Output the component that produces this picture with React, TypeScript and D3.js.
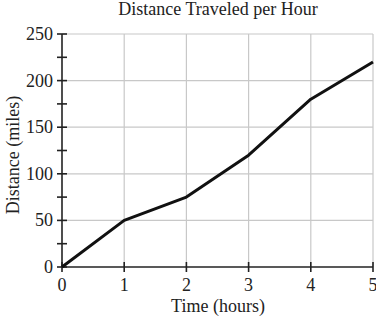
import React from "react";
import * as d3 from "d3";

const hours = [0, 1, 2, 3, 4, 5];
const miles = [0, 50, 75, 120, 180, 220];
const yTicks = [0, 50, 100, 150, 200, 250];
const yMinor = [25, 75, 125, 175, 225];
const xTicks = [0, 1, 2, 3, 4, 5];

export default function App() {
  const W = 376, H = 320;
  const x = d3.scaleLinear().domain([0, 5]).range([62, 373]);
  const y = d3.scaleLinear().domain([0, 250]).range([267, 34]);
  const line = d3.line<number>().x((_, i) => x(hours[i])).y((d) => y(d));
  const font = "'Liberation Serif', 'Times New Roman', serif";
  return (
    <svg width={W} height={H} style={{ position: "absolute", left: 0, top: 0 }} fontFamily={font}>
      <rect width={W} height={H} fill="#fff" />
      {xTicks.slice(1).map((t) => (
        <line key={"gx" + t} x1={x(t)} x2={x(t)} y1={y(250)} y2={y(0)} stroke="#c8c8c8" strokeWidth={1.2} />
      ))}
      {yTicks.slice(1).map((t) => (
        <line key={"gy" + t} x1={x(0)} x2={x(5)} y1={y(t)} y2={y(t)} stroke="#c8c8c8" strokeWidth={1.2} />
      ))}
      <line x1={x(0)} x2={x(0)} y1={y(250)} y2={y(0)} stroke="#222" strokeWidth={1.6} />
      <line x1={x(0)} x2={x(5)} y1={y(0)} y2={y(0)} stroke="#222" strokeWidth={1.6} />
      {yTicks.concat(yMinor).map((t) => (
        <line key={"ty" + t} x1={x(0) - 5} x2={x(0) + 5} y1={y(t)} y2={y(t)} stroke="#222" strokeWidth={1.6} />
      ))}
      {xTicks.map((t) => (
        <line key={"tx" + t} x1={x(t)} x2={x(t)} y1={y(0) - 5} y2={y(0) + 5} stroke="#222" strokeWidth={1.6} />
      ))}
      <path d={line(miles) || ""} fill="none" stroke="#111" strokeWidth={3} strokeLinejoin="round" />
      {yTicks.map((t) => (
        <text key={"ly" + t} x={x(0) - 9} y={y(t)} dy="0.33em" textAnchor="end" fontSize={18} fill="#222">
          {t}
        </text>
      ))}
      {xTicks.map((t) => (
        <text key={"lx" + t} x={x(t)} y={y(0) + 24} textAnchor="middle" fontSize={18} fill="#222">
          {t}
        </text>
      ))}
      <text x={218} y={15} textAnchor="middle" fontSize={18} fill="#222">
        Distance Traveled per Hour
      </text>
      <text x={218} y={312} textAnchor="middle" fontSize={18} fill="#222">
        Time (hours)
      </text>
      <text transform={`translate(19,155) rotate(-90)`} textAnchor="middle" fontSize={18} fill="#222">
        Distance (miles)
      </text>
    </svg>
  );
}
